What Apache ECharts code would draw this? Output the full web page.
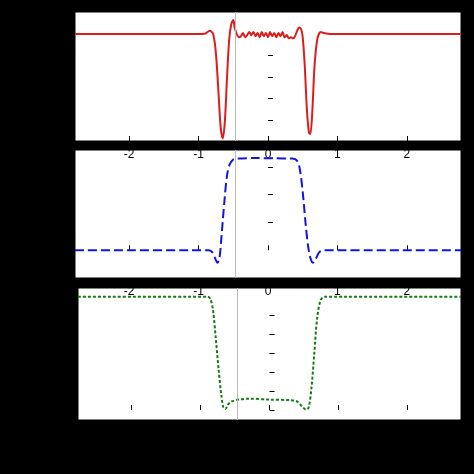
<!DOCTYPE html><html><head><meta charset="utf-8"><script src="https://cdn.jsdelivr.net/npm/echarts@6/dist/echarts.min.js"></script></head>
<body style="margin:0;background:#000"><div id="c" style="width:474px;height:474px"></div>
<script>
const xTicks=[-2,-1,0,1,2];
const markerX=-0.47;
const redSeries=[[-2.78,1],[-1.0,1],[-0.9,1.005],[-0.84,1.03],[-0.79,1.0],[-0.75,0.82],[-0.71,0.42],[-0.68,0.12],[-0.65,0.03],[-0.62,0.2],[-0.59,0.6],[-0.56,0.94],[-0.53,1.09],[-0.50,1.13],[-0.48,1.06],[-0.45,1.0],[-0.42,0.97],[-0.39,0.98],[-0.36,1.01],[-0.33,0.97],[-0.30,0.99],[-0.27,1.02],[-0.24,0.99],[-0.21,1.02],[-0.18,0.98],[-0.15,1.01],[-0.12,0.97],[-0.09,1.02],[-0.06,0.98],[-0.03,1.01],[0.0,0.97],[0.03,1.02],[0.06,0.98],[0.09,1.01],[0.12,0.97],[0.15,1.01],[0.18,0.98],[0.21,1.02],[0.24,0.97],[0.27,0.99],[0.30,0.96],[0.33,0.97],[0.36,0.96],[0.39,0.98],[0.42,1.03],[0.45,1.06],[0.48,1.04],[0.50,0.97],[0.53,0.7],[0.56,0.3],[0.59,0.08],[0.61,0.07],[0.64,0.3],[0.67,0.7],[0.71,0.95],[0.76,1.02],[0.80,1.01],[0.9,1.0],[2.78,1]];
const blueSeries=[[-2.78,0],[-0.85,0],[-0.80,-0.08],[-0.76,-0.3],[-0.73,-0.45],[-0.70,-0.3],[-0.67,0.5],[-0.63,1.7],[-0.59,2.7],[-0.55,3.1],[-0.50,3.27],[-0.45,3.3],[-0.2,3.32],[0.1,3.31],[0.35,3.3],[0.42,3.22],[0.46,2.9],[0.50,2.1],[0.54,1.0],[0.58,0.1],[0.62,-0.35],[0.65,-0.45],[0.69,-0.3],[0.74,-0.07],[0.80,0],[2.78,0]];
const greenSeries=[[-2.78,6],[-0.9,6],[-0.86,5.9],[-0.82,5.3],[-0.78,3.8],[-0.74,2.2],[-0.70,0.8],[-0.67,0.15],[-0.64,0.05],[-0.60,0.3],[-0.55,0.45],[-0.45,0.55],[-0.3,0.6],[0.0,0.55],[0.3,0.52],[0.40,0.45],[0.47,0.2],[0.53,0.02],[0.57,0.15],[0.61,1.2],[0.65,3.0],[0.69,4.8],[0.74,5.8],[0.80,6.0],[2.78,6]];
const ch=echarts.init(document.getElementById('c'));
const grids=[{left:75,right:13,top:12,height:129},{left:75,right:13,top:150,height:128},{left:78,right:13,top:288,height:132}];
const ylims=[[0.005,1.205,[0.2,0.4,0.6,0.8,1.0]],[-1.0,3.61,[1,2,3]],[-0.53,6.46,[0,1,2,3,4,5]]];
const series=[[redSeries,'#dd1c1c','solid'],[blueSeries,'#1414dc',[9,4]],[greenSeries,'#167a16',[3,2]]];
ch.setOption({backgroundColor:'#000',animation:false,
grid:grids.map(g=>Object.assign({show:true,backgroundColor:'#fff',borderColor:'#000',borderWidth:1},g)),
xAxis:grids.map((g,i)=>({type:'value',gridIndex:i,min:-2.78,max:2.78,splitLine:{show:false},axisLine:{show:false},
 axisTick:{inside:true,length:5,customValues:xTicks,lineStyle:{color:'#000'}},axisLabel:{customValues:xTicks,color:'#000'}})),
yAxis:ylims.map((y,i)=>({type:'value',gridIndex:i,min:y[0],max:y[1],splitLine:{show:false},axisLine:{show:false},
 axisTick:{inside:true,length:5,customValues:y[2],lineStyle:{color:'#000'}},axisLabel:{customValues:y[2],color:'#000'}})),
series:series.map((s,i)=>({type:'line',xAxisIndex:i,yAxisIndex:i,data:s[0],smooth:0.3,symbol:'none',
 lineStyle:{color:s[1],width:2,type:s[2]},
 markLine:{silent:true,symbol:'none',label:{show:false},lineStyle:{color:'#bbb',width:1,type:'solid'},data:[{xAxis:markerX}]}}))
});
</script></body></html>
